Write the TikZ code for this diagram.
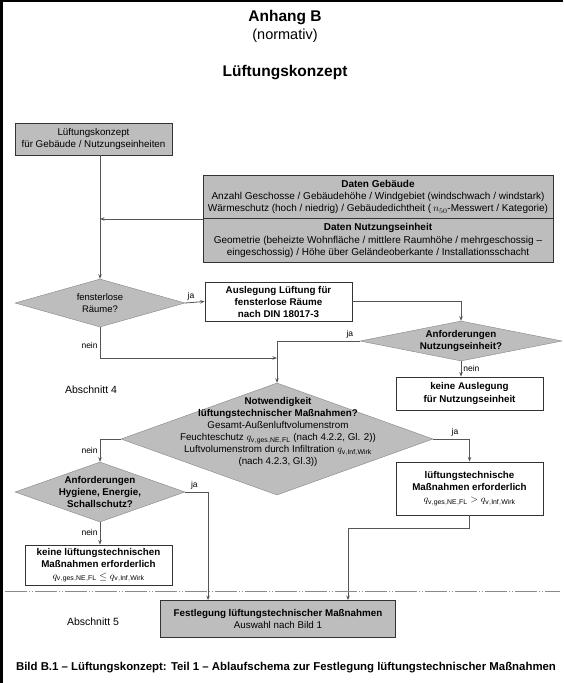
\documentclass[tikz,border=0pt]{standalone}
\usepackage{fontspec}
\setmainfont{Liberation Sans}
\usepackage{tikz}
\usetikzlibrary{arrows.meta,calc,shapes.geometric}
\definecolor{boxgray}{HTML}{BDBDBD}
\definecolor{edge}{HTML}{333333}
\definecolor{wire}{HTML}{555555}
\definecolor{sepline}{HTML}{8A8A8A}

\begin{document}
\begin{tikzpicture}[x=1pt,y=-1pt,>={Stealth[length=4.5pt,width=3.5pt]},font=\fontsize{9.8}{12}\selectfont,
  greybox/.style={draw=edge,fill=boxgray,line width=0.9pt,align=center,inner sep=0pt},
  whitebox/.style={draw=edge,fill=white,line width=0.9pt,align=center,inner sep=0pt},
  dia/.style={diamond,draw=boxgray!70!black,line width=0.4pt,fill=boxgray,inner sep=0pt},
  flow/.style={draw=wire,line width=0.8pt,->},
  lbl/.style={font=\fontsize{8.5}{10}\selectfont,inner sep=2pt}]
\useasboundingbox (0,0) rectangle (563,683);
\fill (0,0) rectangle (563,2);
\fill (0,0) rectangle (3,683);
\node[font=\fontsize{15.5}{17}\selectfont\bfseries] (anhang) at (285,18) {Anhang B};
\node[font=\fontsize{14.5}{16}\selectfont] (normativ) at (285,36) {(normativ)};
\node[font=\fontsize{15.5}{17}\selectfont\bfseries] (titel) at (285,73) {Lüftungskonzept};
\node[greybox,minimum width=157pt,minimum height=32pt] (konzept) at (93.5,139) {Lüftungskonzept\\für Gebäude / Nutzungseinheiten};
\node[greybox,minimum width=350pt,minimum height=43pt,font=\fontsize{10}{12}\selectfont] (gebaeude) at (378,197) {\textbf{Daten Gebäude}\\Anzahl Geschosse / Gebäudehöhe / Windgebiet (windschwach / windstark)\\Wärmeschutz (hoch / niedrig) / Gebäudedichtheit (\,$n_{50}$-Messwert / Kategorie)};
\node[greybox,minimum width=350pt,minimum height=44pt,font=\fontsize{10}{12.5}\selectfont] (nutzung) at (378,240.5) {\textbf{Daten Nutzungseinheit}\\Geometrie (beheizte Wohnfläche / mittlere Raumhöhe / mehrgeschossig --\\eingeschossig) / Höhe über Geländeoberkante / Installationsschacht};
\node[dia,minimum width=170pt,minimum height=48pt] (fenster) at (100,303) {};
\node[align=center,font=\fontsize{9.5}{12.5}\selectfont] at (fenster) {fensterlose\\Räume?};
\node[whitebox,minimum width=147pt,minimum height=39pt,font=\fontsize{9.8}{12}\selectfont\bfseries] (auslegung) at (278.5,301.5) {Auslegung Lüftung für\\fensterlose Räume\\nach DIN 18017-3};
\node[dia,minimum width=202pt,minimum height=40pt] (anfnutz) at (461,341) {};
\node[align=center,font=\fontsize{9.8}{12.5}\selectfont\bfseries] at (anfnutz) {Anforderungen\\Nutzungseinheit?};
\node[whitebox,minimum width=147pt,minimum height=33pt,font=\fontsize{9.8}{12.5}\selectfont\bfseries] (keinausl) at (469.5,393.5) {keine Auslegung\\für Nutzungseinheit};
\node[font=\fontsize{10.5}{12}\selectfont] (abschnittvier) at (91,390) {Abschnitt 4};
\node[dia,minimum width=312pt,minimum height=112pt] (notw) at (277,439) {};
\node[align=center] at (278,432) {\textbf{Notwendigkeit}\\\textbf{lüftungstechnischer Maßnahmen?}\\Gesamt-Außenluftvolumenstrom\\Feuchteschutz $q_{\mathrm{v,ges,NE,FL}}$ (nach 4.2.2, Gl. 2))\\Luftvolumenstrom durch Infiltration $q_{\mathrm{v,Inf,Wirk}}$\\(nach 4.2.3, Gl.3))};
\node[whitebox,minimum width=147pt,minimum height=53pt] (massn) at (469.5,488.5) {\textbf{lüftungstechnische}\\\textbf{Maßnahmen erforderlich}\\$q_{\mathrm{v,ges,NE,FL}} > q_{\mathrm{v,Inf,Wirk}}$};
\node[dia,minimum width=170pt,minimum height=60pt] (anfhyg) at (100,492) {};
\node[align=center,font=\fontsize{9.8}{12}\selectfont\bfseries] at (anfhyg) {Anforderungen\\Hygiene, Energie,\\Schallschutz?};
\node[whitebox,minimum width=147pt,minimum height=40pt] (keinmass) at (98.5,565) {\textbf{keine lüftungstechnischen}\\\textbf{Maßnahmen erforderlich}\\$q_{\mathrm{v,ges,NE,FL}} \leq q_{\mathrm{v,Inf,Wirk}}$};
\node[greybox,minimum width=235pt,minimum height=37pt] (festlegung) at (278,619) {\textbf{Festlegung lüftungstechnischer Maßnahmen}\\Auswahl nach Bild 1};
\node[font=\fontsize{10.5}{12}\selectfont] (abschnittfuenf) at (93,622) {Abschnitt 5};
\node[font=\fontsize{11.4}{13}\selectfont\bfseries] (bild) at (286,668) {Bild B.1 -- Lüftungskonzept: Teil 1 -- Ablaufschema zur Festlegung lüftungstechnischer Maßnahmen};
\coordinate (merge) at (277,358);
\coordinate (join) at (348,528);
\draw[flow] (fenster.north |- konzept.south) -- (fenster.north);
\draw[flow] (gebaeude.south west) -- (fenster.north |- gebaeude.south west);
\draw[flow] (fenster.east) -- node[lbl,above,pos=0.3]{ja} (auslegung.west);
\draw[flow] (auslegung.east) -| (anfnutz.north);
\draw[flow] (anfnutz.west) -| node[lbl,above,pos=0.06]{ja} (notw.north);
\draw[flow] (fenster.south) |- node[lbl,left,pos=0.3]{nein} (merge);
\draw[flow] (anfnutz.south) -- node[lbl,right,pos=0.45]{nein} (anfnutz.south |- keinausl.north);
\draw[flow] (notw.east) -| node[lbl,above,pos=0.3]{ja} (massn.north);
\draw[flow] (notw.west) -| node[lbl,left,pos=0.75]{nein} (anfhyg.north);
\draw[flow] (anfhyg.east) -| node[lbl,above,pos=0.2]{ja} ($(festlegung.north west)+(48,0)$);
\draw[flow] (anfhyg.south) -- node[lbl,left,pos=0.45]{nein} (anfhyg.south |- keinmass.north);
\draw[flow] (massn.south) |- (join) -- (join |- festlegung.north);
\draw[sepline,line width=1pt,dash pattern=on 22pt off 2pt on 1pt off 2pt on 1pt off 2pt] (5,591) -- (560,591);
\end{tikzpicture}
\end{document}
